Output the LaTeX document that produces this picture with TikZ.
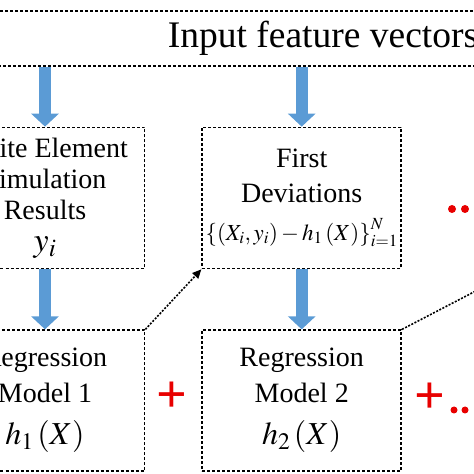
\documentclass[tikz,border=0pt]{standalone}
\usepackage{mathptmx}
\usepackage{fontspec}
\setmainfont{Liberation Serif}
\usetikzlibrary{arrows.meta,positioning}
\definecolor{arrowblue}{RGB}{91,155,213}
\definecolor{plusred}{RGB}{232,0,0}

\begin{document}
\begin{tikzpicture}[x=1pt, y=1pt, node distance=56pt,
  every node/.style={font=\fontsize{28}{33}\selectfont},
  box/.style={draw, line width=1.7pt, dash pattern=on 3pt off 2pt, align=center,
    minimum width=199pt, minimum height=141pt, inner sep=0pt},
  bluearrow/.style={arrowblue, line width=12pt, -{Triangle[width=27pt,length=13pt]}},
  dotlink/.style={line width=1.6pt, dash pattern=on 2pt off 1.5pt},
  plussign/.style={text=plusred, font=\fontsize{54}{54}\selectfont\bfseries, inner sep=0pt},
  reddot/.style={circle, fill=plusred, inner sep=0pt, minimum size=#1},
  reddot/.default=8pt]
\useasboundingbox (0,0) rectangle (474,474);
\clip (0,0) rectangle (474,474);

\node[box, minimum width=680pt, minimum height=55pt, font=\fontsize{37.5}{37.5}\selectfont] (inp) at (323,435.5) {Input feature vectors};
\node[box] (fem) at (45,276) {Finite Element\\[-2pt]Simulation\\[-2pt]Results\\[-1pt]{\fontsize{34}{34}\selectfont$y_i$}};
\node[box, right=of fem] (dev) {First\\[2pt]Deviations\\[5pt]{\fontsize{23}{23}\selectfont$\left\{\left(X_i,y_i\right)-h_1\left(X\right)\right\}_{i=1}^{N}$}};
\node[box, below=60pt of fem] (reg1) {Regression\\[3pt]Model 1\\[9pt]{\fontsize{32}{32}\selectfont$h_1\left(X\right)$}};
\node[box, right=of reg1] (reg2) {Regression\\[3pt]Model 2\\[9pt]{\fontsize{32}{32}\selectfont$h_2\left(X\right)$}};
\coordinate (next) at (520,206);

\node[plussign] (plusA) at (172,77) {+};
\node[plussign] (plusB) at (430,76) {+};
\node[reddot=7pt] (dotB1) at (454,64) {};
\node[reddot=7pt] (dotB2) at (465,64) {};
\node[reddot] (dotA1) at (452,265) {};
\node[reddot] (dotA2) at (465,265) {};

\draw[bluearrow] (inp.south -| fem) -- (fem.north);
\draw[bluearrow] (inp.south -| dev) -- (dev.north);
\draw[bluearrow] (fem.south) -- (reg1.north);
\draw[bluearrow] (dev.south) -- (reg2.north);
\draw[dotlink, -{Triangle[width=8pt,length=9pt]}] (reg1.north east) -- (dev.south west);
\draw[dotlink] (reg2.north east) -- (next);
\end{tikzpicture}
\end{document}
